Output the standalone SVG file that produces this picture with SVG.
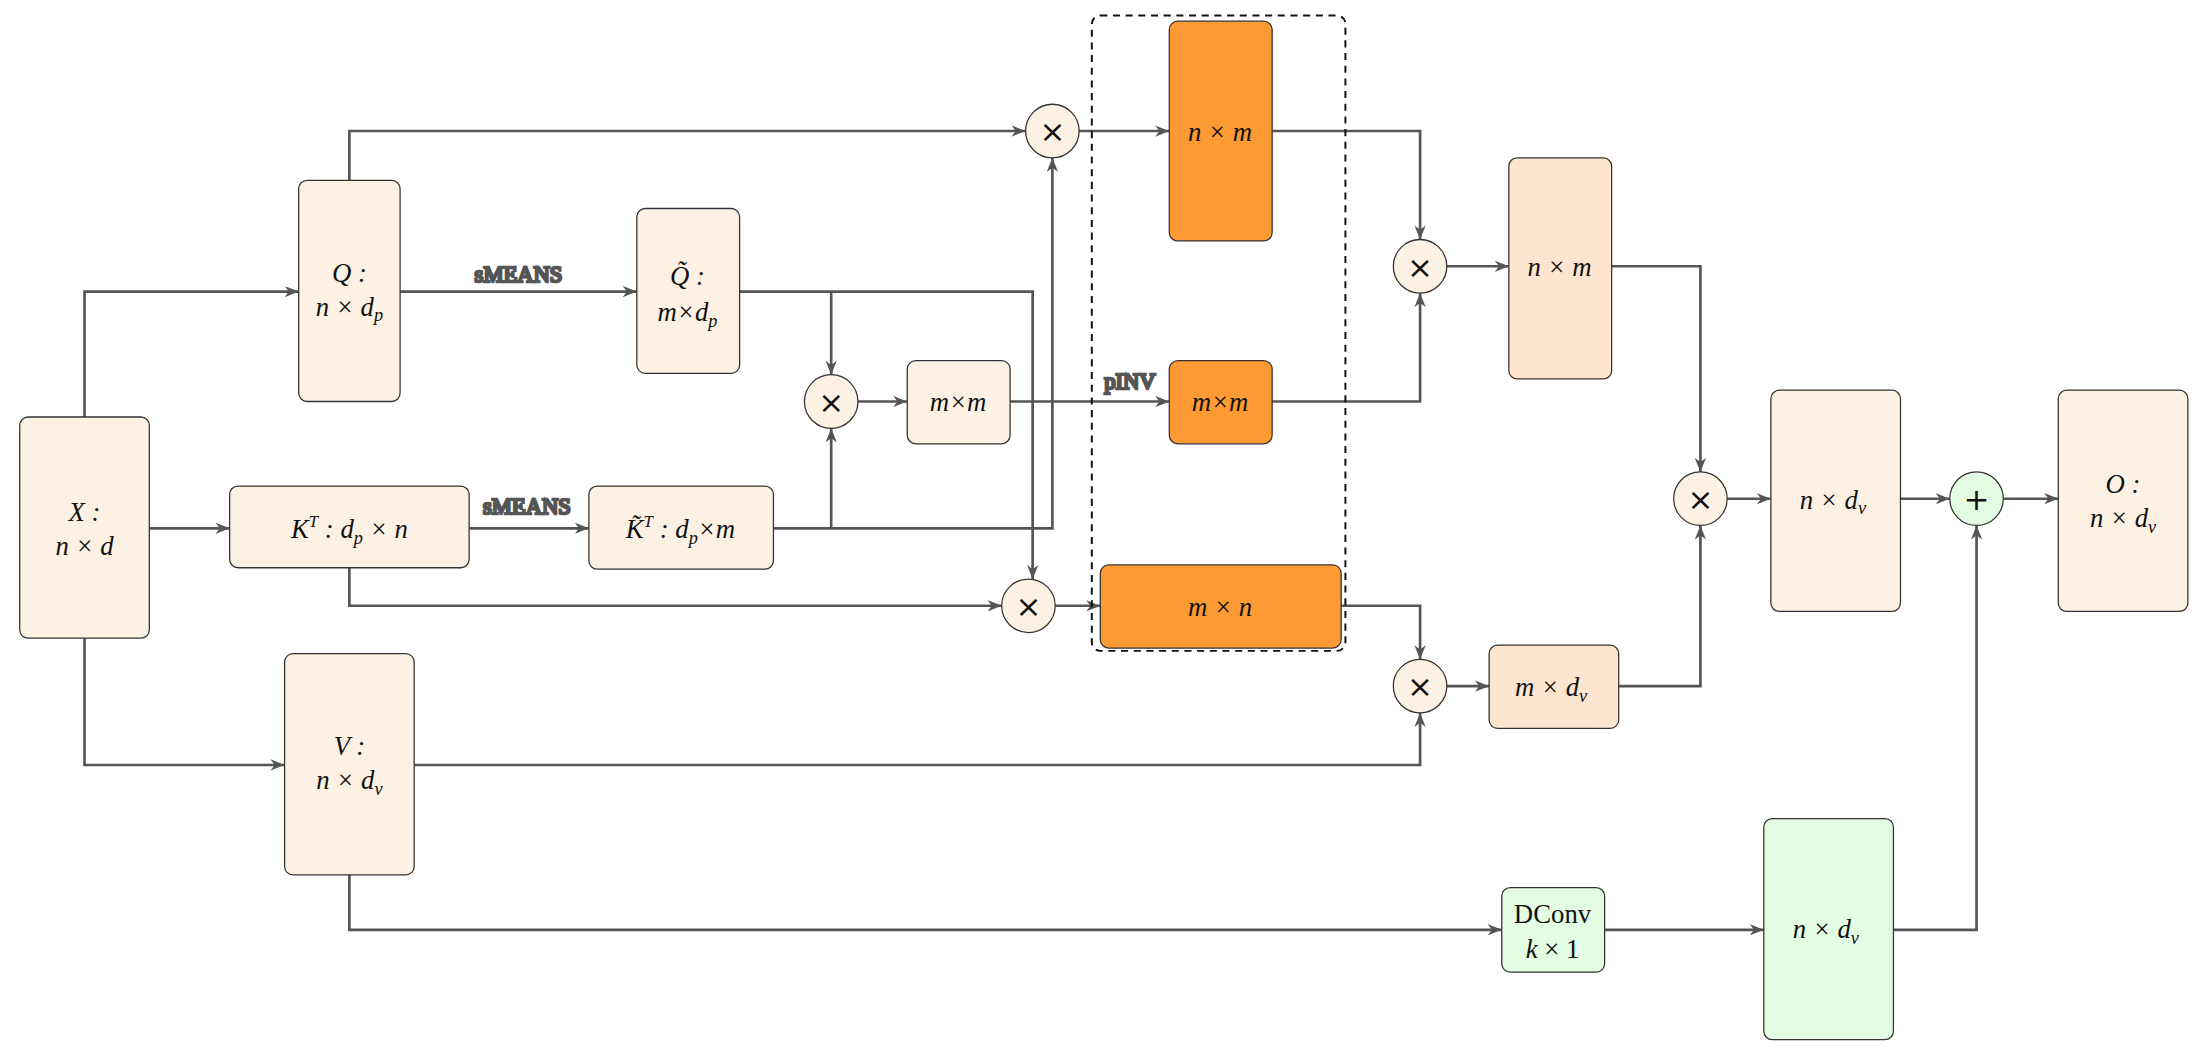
<svg xmlns="http://www.w3.org/2000/svg" width="2209" height="1061" viewBox="0 0 2209 1061">
<defs>
<marker id="ar" viewBox="0 0 10 8" refX="10" refY="4" markerWidth="10" markerHeight="8" markerUnits="userSpaceOnUse" orient="auto"><path d="M0,0 L10,4 L0,8 L3,4 Z" fill="#555"/></marker>
</defs>
<style>
.c{fill:none;stroke:#555;stroke-width:1.9}
.b{stroke:#333;stroke-width:0.9}
.l{fill:#fdf1e4}.o{fill:#fd9a33}.p{fill:#fde5cf}.g{fill:#e3fde3}
text{font-family:"Liberation Serif",serif;font-size:19px;fill:#111;text-anchor:middle}
.m{font-style:italic}
.lab{font-size:16px;fill:#555;font-style:normal}
.op{font-family:"DejaVu Sans",sans-serif;font-size:22px;font-style:normal}
</style>
<rect width="2209" height="1061" fill="#fff"/>
<g transform="scale(1.4088)">
<g id="connectors" class="c">
<path d="M60,296 V207 H212" marker-end="url(#ar)"/>
<path d="M106,375 H163" marker-end="url(#ar)"/>
<path d="M60,453 V543 H202" marker-end="url(#ar)"/>
<path d="M248,128 V93 H728" marker-end="url(#ar)"/>
<path d="M284,207 H452" marker-end="url(#ar)"/>
<path d="M525,207 H733 V411" marker-end="url(#ar)"/>
<path d="M590,207 V266" marker-end="url(#ar)"/>
<path d="M333,375 H418" marker-end="url(#ar)"/>
<path d="M549,375 H747 V112" marker-end="url(#ar)"/>
<path d="M590,375 V304" marker-end="url(#ar)"/>
<path d="M248,403 V430 H711" marker-end="url(#ar)"/>
<path d="M609,285 H644" marker-end="url(#ar)"/>
<path d="M717,285 H830" marker-end="url(#ar)"/>
<path d="M766,93 H830" marker-end="url(#ar)"/>
<path d="M749,430 H781" marker-end="url(#ar)"/>
<path d="M903,93 H1008 V170" marker-end="url(#ar)"/>
<path d="M903,285 H1008 V208" marker-end="url(#ar)"/>
<path d="M1027,189 H1071" marker-end="url(#ar)"/>
<path d="M1144,189 H1207 V335" marker-end="url(#ar)"/>
<path d="M952,430 H1008 V468" marker-end="url(#ar)"/>
<path d="M294,543 H1008 V506" marker-end="url(#ar)"/>
<path d="M1027,487 H1057" marker-end="url(#ar)"/>
<path d="M1149,487 H1207 V373" marker-end="url(#ar)"/>
<path d="M1226,354 H1257" marker-end="url(#ar)"/>
<path d="M1349,354 H1384" marker-end="url(#ar)"/>
<path d="M1422,354 H1461" marker-end="url(#ar)"/>
<path d="M248,621 V660 H1066" marker-end="url(#ar)"/>
<path d="M1139,660 H1252" marker-end="url(#ar)"/>
<path d="M1344,660 H1403 V373" marker-end="url(#ar)"/>
<text class="lab" x="368" y="200">sMEANS</text>
<text class="lab" x="374" y="365">sMEANS</text>
<text class="lab" x="802" y="276">pINV</text>
</g>
<rect id="group" x="775" y="11" width="180" height="451" rx="6" fill="none" stroke="#111" stroke-width="1.4" stroke-dasharray="5,4"/>
<g id="X"><rect class="b l" x="14" y="296" width="92" height="157" rx="6"/><text class="m" x="60" y="370">X :</text><text class="m" x="60" y="394">n × d</text></g>
<g id="Q"><rect class="b l" x="212" y="128" width="72" height="157" rx="6"/><text class="m" x="248" y="200">Q :</text><text class="m" x="248" y="224">n × d<tspan font-size="13" dy="4">p</tspan></text></g>
<g id="Qt"><rect class="b l" x="452" y="148" width="73" height="117" rx="6"/><text class="m" x="488" y="202">Q̃ :</text><text class="m" x="488" y="228">m×d<tspan font-size="13" dy="4">p</tspan></text></g>
<g id="KT"><rect class="b l" x="163" y="345" width="170" height="58" rx="6"/><text class="m" x="248" y="382">K<tspan font-size="12" dy="-8">T</tspan><tspan dy="8"> : d</tspan><tspan font-size="13" dy="4">p</tspan><tspan dy="-4"> × n</tspan></text></g>
<g id="Kt"><rect class="b l" x="418" y="345" width="131" height="59" rx="6"/><text class="m" x="483" y="382">K̃<tspan font-size="12" dy="-8">T</tspan><tspan dy="8"> : d</tspan><tspan font-size="13" dy="4">p</tspan><tspan dy="-4">×m</tspan></text></g>
<g id="V"><rect class="b l" x="202" y="464" width="92" height="157" rx="6"/><text class="m" x="248" y="536">V :</text><text class="m" x="248" y="560">n × d<tspan font-size="13" dy="4">v</tspan></text></g>
<g id="mul1"><circle class="b l" cx="747" cy="93" r="19"/><text class="op" x="747" y="101">×</text></g>
<g id="mul2"><circle class="b l" cx="590" cy="285" r="19"/><text class="op" x="590" y="293">×</text></g>
<g id="mul3"><circle class="b l" cx="730" cy="430" r="19"/><text class="op" x="730" y="438">×</text></g>
<g id="mul4"><circle class="b l" cx="1008" cy="189" r="19"/><text class="op" x="1008" y="197">×</text></g>
<g id="mul5"><circle class="b l" cx="1008" cy="487" r="19"/><text class="op" x="1008" y="495">×</text></g>
<g id="mul6"><circle class="b l" cx="1207" cy="354" r="19"/><text class="op" x="1207" y="362">×</text></g>
<g id="plus"><circle class="b g" cx="1403" cy="354" r="19"/><text class="op" x="1403" y="362">+</text></g>
<g id="mm1"><rect class="b l" x="644" y="256" width="73" height="59" rx="6"/><text class="m" x="680" y="292">m×m</text></g>
<g id="nm_o"><rect class="b o" x="830" y="15" width="73" height="156" rx="6"/><text class="m" x="866" y="100">n × m</text></g>
<g id="mm_o"><rect class="b o" x="830" y="256" width="73" height="59" rx="6"/><text class="m" x="866" y="292">m×m</text></g>
<g id="mn_o"><rect class="b o" x="781" y="401" width="171" height="59" rx="6"/><text class="m" x="866" y="437">m × n</text></g>
<g id="nm_p"><rect class="b p" x="1071" y="112" width="73" height="157" rx="6"/><text class="m" x="1107" y="196">n × m</text></g>
<g id="mdv"><rect class="b p" x="1057" y="458" width="92" height="59" rx="6"/><text class="m" x="1101" y="494">m × d<tspan font-size="13" dy="4">v</tspan></text></g>
<g id="ndv"><rect class="b l" x="1257" y="277" width="92" height="157" rx="6"/><text class="m" x="1301" y="361">n × d<tspan font-size="13" dy="4">v</tspan></text></g>
<g id="O"><rect class="b l" x="1461" y="277" width="92" height="157" rx="6"/><text class="m" x="1507" y="350">O :</text><text class="m" x="1507" y="374">n × d<tspan font-size="13" dy="4">v</tspan></text></g>
<g id="dconv"><rect class="b g" x="1066" y="630" width="73" height="60" rx="6"/><text x="1102" y="655" font-size="17">DConv</text><text class="m" x="1102" y="680">k <tspan font-style="normal">× 1</tspan></text></g>
<g id="ndv_g"><rect class="b g" x="1252" y="581" width="92" height="157" rx="6"/><text class="m" x="1296" y="666">n × d<tspan font-size="13" dy="4">v</tspan></text></g>
</g>
</svg>
